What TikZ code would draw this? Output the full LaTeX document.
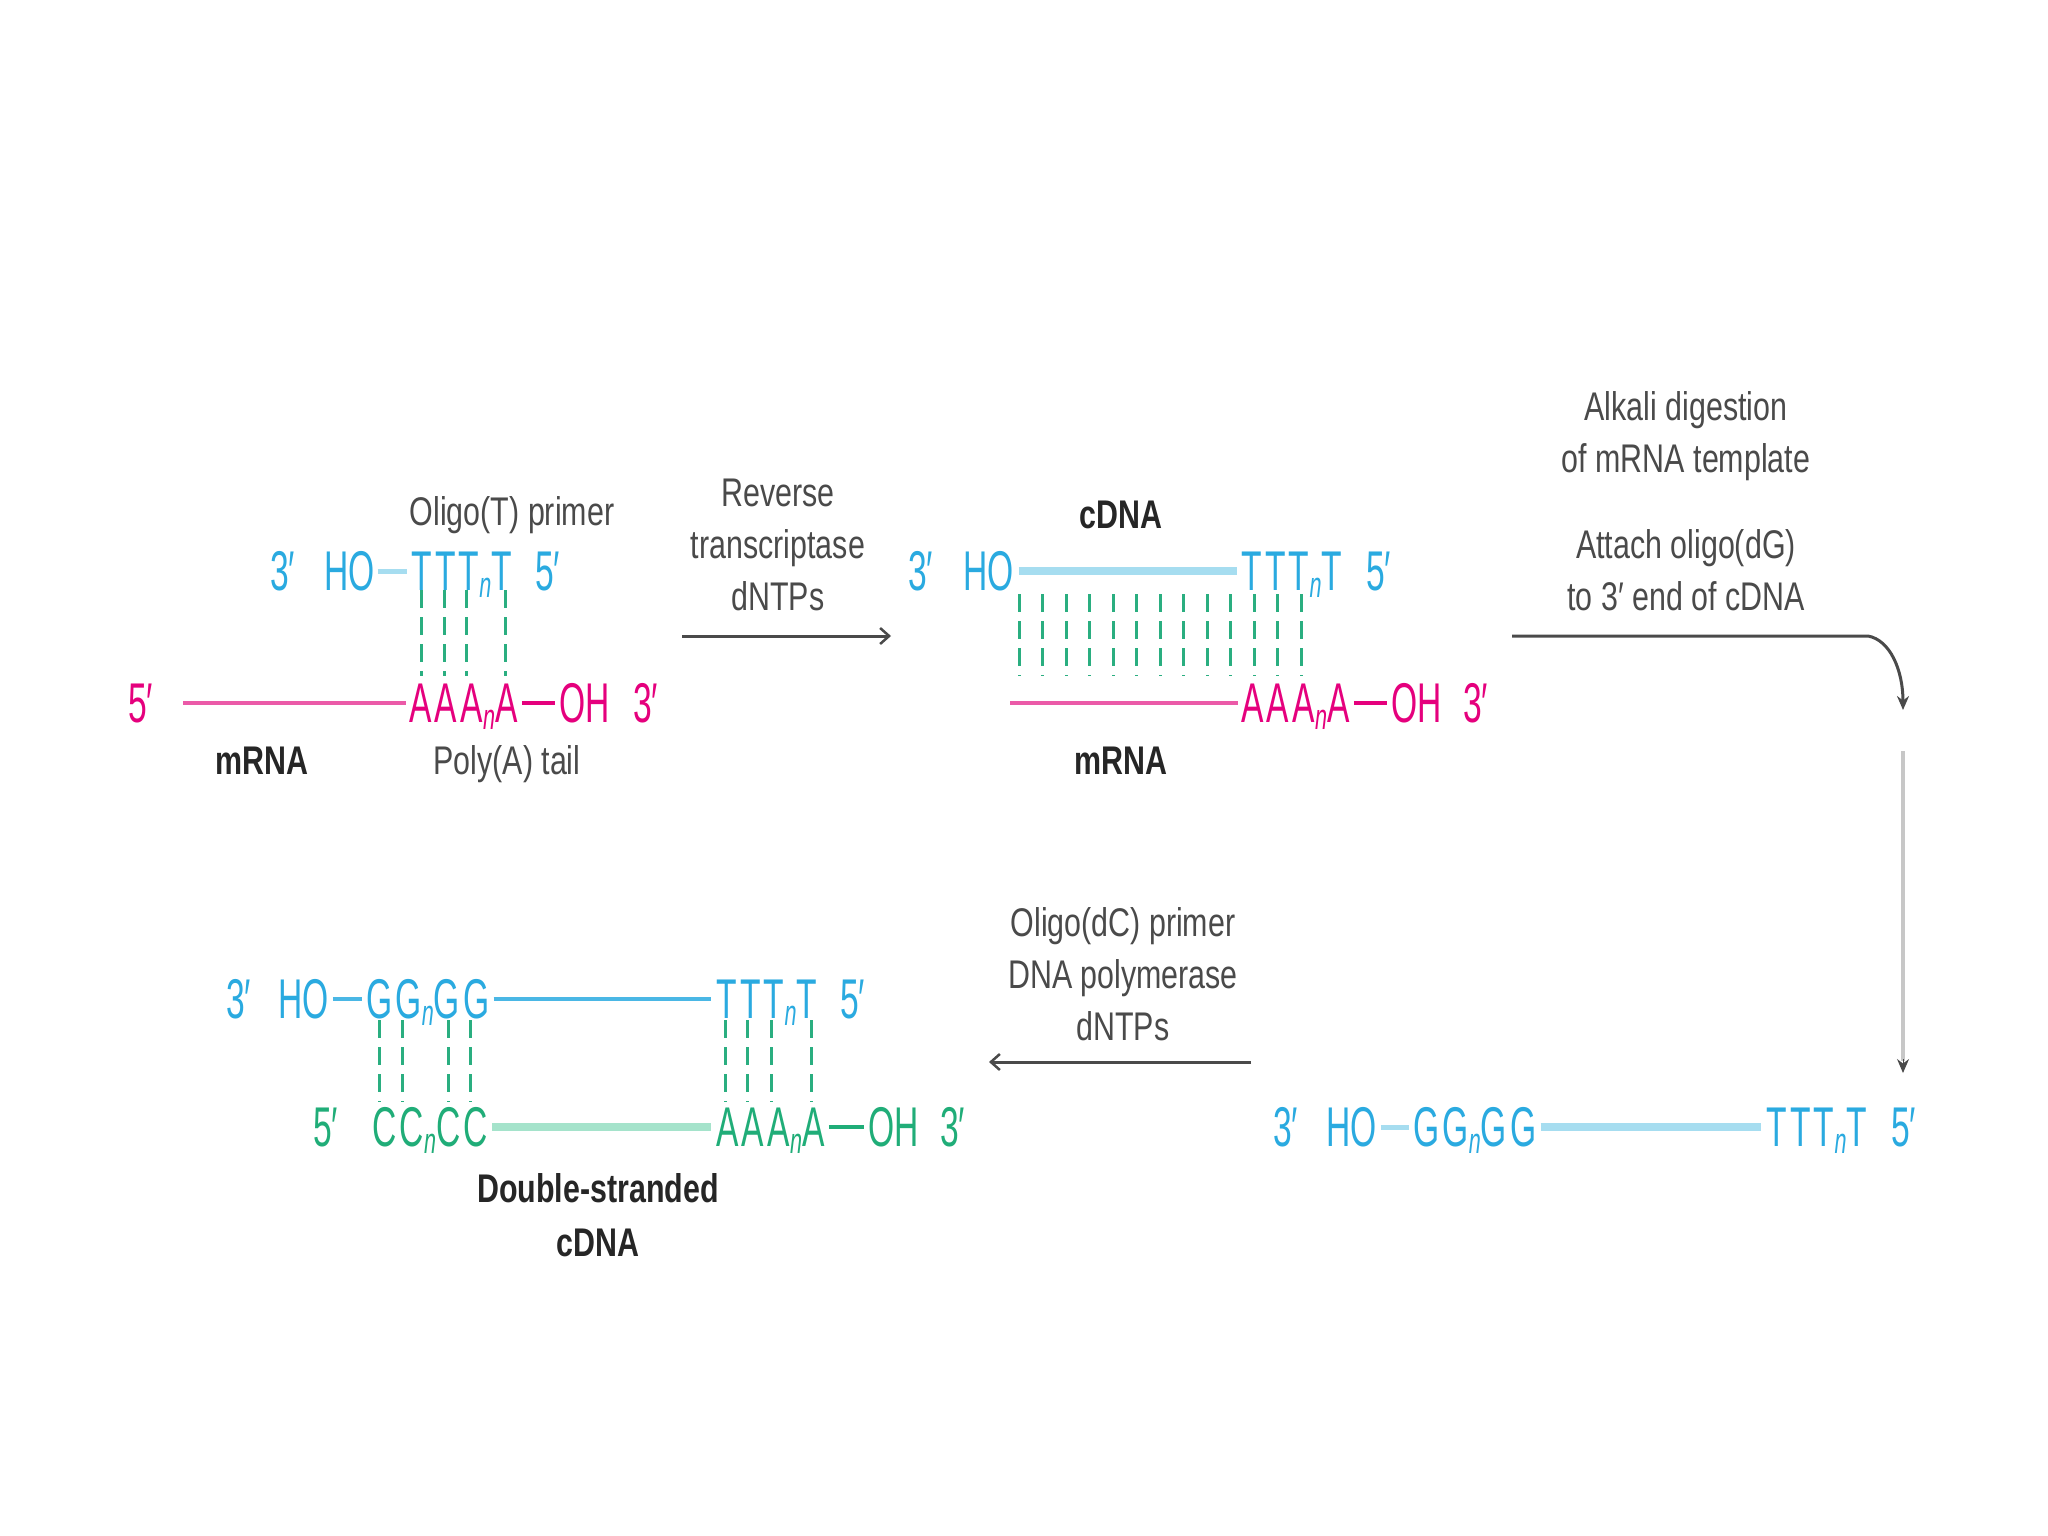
\documentclass[tikz,border=0pt]{standalone}
\usepackage{fontspec}
\setmainfont{Liberation Sans}
\newfontfamily\seqf[FakeStretch=0.6,LetterSpace=6]{Liberation Sans}
\newfontfamily\seqp[FakeStretch=0.6]{Liberation Sans}
\newfontfamily\labf[FakeStretch=0.76]{Liberation Sans}
\usetikzlibrary{arrows.meta}
\definecolor{cblue}{HTML}{2AAAE0}
\definecolor{lblue}{HTML}{A6DDF0}
\definecolor{mag}{HTML}{E5007D}
\definecolor{lmag}{HTML}{EB5AA8}
\definecolor{grn}{HTML}{20AD78}
\definecolor{dgrn}{HTML}{2AAE80}
\definecolor{lgrn}{HTML}{A5E3CB}
\definecolor{gtxt}{HTML}{4A4A4A}
\newcommand\nn{\raisebox{-7pt}{\fontsize{36}{36}\selectfont\itshape n}}
\tikzset{
  seq/.style={font=\seqp\fontsize{56}{60}\selectfont, inner sep=0pt, text height=39pt, text depth=0pt, anchor=west},
  grp/.style={font=\seqf\fontsize{56}{60}\selectfont},
  bseq/.style={seq, text=cblue},
  mseq/.style={seq, text=mag},
  gseq/.style={seq, text=grn},
  lab/.style={font=\labf\fontsize{40}{52}\selectfont, text=gtxt, align=center, inner sep=0pt},
  blab/.style={font=\labf\bfseries\fontsize{40}{54}\selectfont, text=black!85, align=center, inner sep=0pt},
  bond/.style={dgrn, line width=3pt, dash pattern=on 18pt off 9pt},
  link/.style={line width=5pt},
  proc/.style={gtxt, line width=3pt, -{Straight Barb[length=9pt,width=16pt,line width=2.5pt]}},
}
\begin{document}
\begin{tikzpicture}[x=1pt,y=-1pt]
\useasboundingbox (0,0) rectangle (2048,1536);
\fill[white] (0,0) rectangle (2048,1536);

% ---------- Part A: mRNA + oligo(T) primer ----------
\node[bseq] (a3) at (270,571) {3′};
\node[bseq] (aHO) at (324,571) {HO};
\node[bseq, grp] (aT) at (411,571) {TTT\nn T};
\node[bseq] (a5) at (535,571) {5′};
\draw[link, lblue] ([xshift=3pt]aHO.east) -- ([xshift=-4pt]aT.west);

\node[mseq] (m5) at (128,703) {5′};
\coordinate (mstart) at (183,703);
\node[mseq, grp] (mA) at (409,703) {AAA\nn A};
\node[mseq] (mOH) at (559,703) {OH};
\node[mseq] (m3) at (633,703) {3′};
\draw[line width=4pt, lmag] (mstart) -- ([xshift=-3pt]mA.west);
\draw[line width=4pt, mag] ([xshift=4pt]mA.east) -- ([xshift=-4pt]mOH.west);

\foreach \x [count=\i] in {421,444,466,505}{
  \coordinate (at\i) at (\x,590);
  \coordinate (ab\i) at (\x,676);
  \draw[bond] (at\i) -- (ab\i);
}

\node[lab] (oligoT) at (512,515) {Oligo(T) primer};
\node[lab] (polyA) at (507,764) {Poly(A) tail};
\node[blab] (mrnaA) at (262,761) {mRNA};

% ---------- Arrow 1 ----------
\node[lab] (rt) at (778,545) {Reverse\\transcriptase\\dNTPs};
\coordinate (r1s) at (682,636);
\coordinate (r1e) at (891,636);
\draw[proc] (r1s) -- (r1e);

% ---------- Part B: cDNA:mRNA hybrid ----------
\node[bseq] (b3) at (908,571) {3′};
\node[bseq] (bHO) at (963,571) {HO};
\node[bseq, grp] (bT) at (1241,571) {TTT\nn T};
\node[bseq] (b5) at (1366,571) {5′};
\draw[line width=8pt, lblue] ([xshift=5pt]bHO.east) -- ([xshift=-4pt]bT.west);

\coordinate (bmstart) at (1010,703);
\node[mseq, grp] (bA) at (1241,703) {AAA\nn A};
\node[mseq] (bOH) at (1391,703) {OH};
\node[mseq] (bm3) at (1463,703) {3′};
\draw[line width=4pt, lmag] (bmstart) -- ([xshift=-3pt]bA.west);
\draw[line width=4pt, mag] ([xshift=4pt]bA.east) -- ([xshift=-4pt]bOH.west);

\foreach \i in {0,...,12}{
  \coordinate (bt\i) at ({1019+23.5*\i},594);
  \coordinate (bb\i) at ({1019+23.5*\i},676);
  \draw[bond] (bt\i) -- (bb\i);
}
\node[blab] (cdnaB) at (1121,515) {cDNA};
\node[blab] (mrnaB) at (1121,761) {mRNA};

% ---------- Arrow 2 (top right) ----------
\node[lab] (alk) at (1686,436) {Alkali digestion\\of mRNA template};
\node[lab] (att) at (1686,570) {Attach oligo(dG)\\to 3′\ end of cDNA};
\coordinate (r2s) at (1512,636);
\coordinate (r2m) at (1868,636);
\coordinate (r2e) at (1903,710);
\draw[gtxt, line width=3pt, -{Stealth[length=14pt,width=12pt]}]
  (r2s) -- (r2m) .. controls (1890,640) and (1903,670) .. (r2e);

\coordinate (r3s) at (1903,751);
\coordinate (r3e) at (1903,1073);
\draw[black!22, line width=4pt, shorten >=12pt] (r3s) -- (r3e);
\draw[gtxt, line width=1pt, -{Stealth[length=14pt,width=12pt]}] ([yshift=14pt]r3e) -- (r3e);

% ---------- Part C: cDNA with oligo(dG) tail ----------
\node[bseq] (c3) at (1273,1127) {3′};
\node[bseq] (cHO) at (1326,1127) {HO};
\node[bseq, grp] (cG) at (1413,1127) {GG\nn GG};
\node[bseq, grp] (cT) at (1766,1127) {TTT\nn T};
\node[bseq] (c5) at (1891,1127) {5′};
\draw[link, lblue] ([xshift=4pt]cHO.east) -- ([xshift=-4pt]cG.west);
\draw[line width=8pt, lblue] ([xshift=4pt]cG.east) -- ([xshift=-5pt]cT.west);

% ---------- Arrow 3 ----------
\node[lab] (pol) at (1123,974) {Oligo(dC) primer\\DNA polymerase\\dNTPs};
\coordinate (r4s) at (1251,1062);
\coordinate (r4e) at (989,1062);
\draw[proc] (r4s) -- (r4e);

% ---------- Part D: double-stranded cDNA ----------
\node[bseq] (d3) at (226,999) {3′};
\node[bseq] (dHO) at (278,999) {HO};
\node[bseq, grp] (dG) at (366,999) {GG\nn GG};
\node[bseq, grp] (dT) at (716,999) {TTT\nn T};
\node[bseq] (d5) at (840,999) {5′};
\draw[line width=4pt, cblue!85] ([xshift=4pt]dHO.east) -- ([xshift=-4pt]dG.west);
\draw[line width=4pt, cblue!85] ([xshift=4pt]dG.east) -- ([xshift=-5pt]dT.west);

\node[gseq] (e5) at (313,1127) {5′};
\node[gseq, grp] (eC) at (372,1127) {CC\nn CC};
\node[gseq, grp] (eA) at (716,1127) {AAA\nn A};
\node[gseq] (eOH) at (868,1127) {OH};
\node[gseq] (e3) at (940,1127) {3′};
\draw[line width=8pt, lgrn] ([xshift=4pt]eC.east) -- ([xshift=-5pt]eA.west);
\draw[line width=4pt, grn] ([xshift=4pt]eA.east) -- ([xshift=-4pt]eOH.west);

\foreach \x [count=\i] in {379,402,448,470,725,747,771,811}{
  \coordinate (dt\i) at (\x,1020);
  \coordinate (db\i) at (\x,1102);
  \draw[bond] (dt\i) -- (db\i);
}
\node[blab] (ds) at (598,1215) {Double-stranded\\cDNA};
\end{tikzpicture}
\end{document}
